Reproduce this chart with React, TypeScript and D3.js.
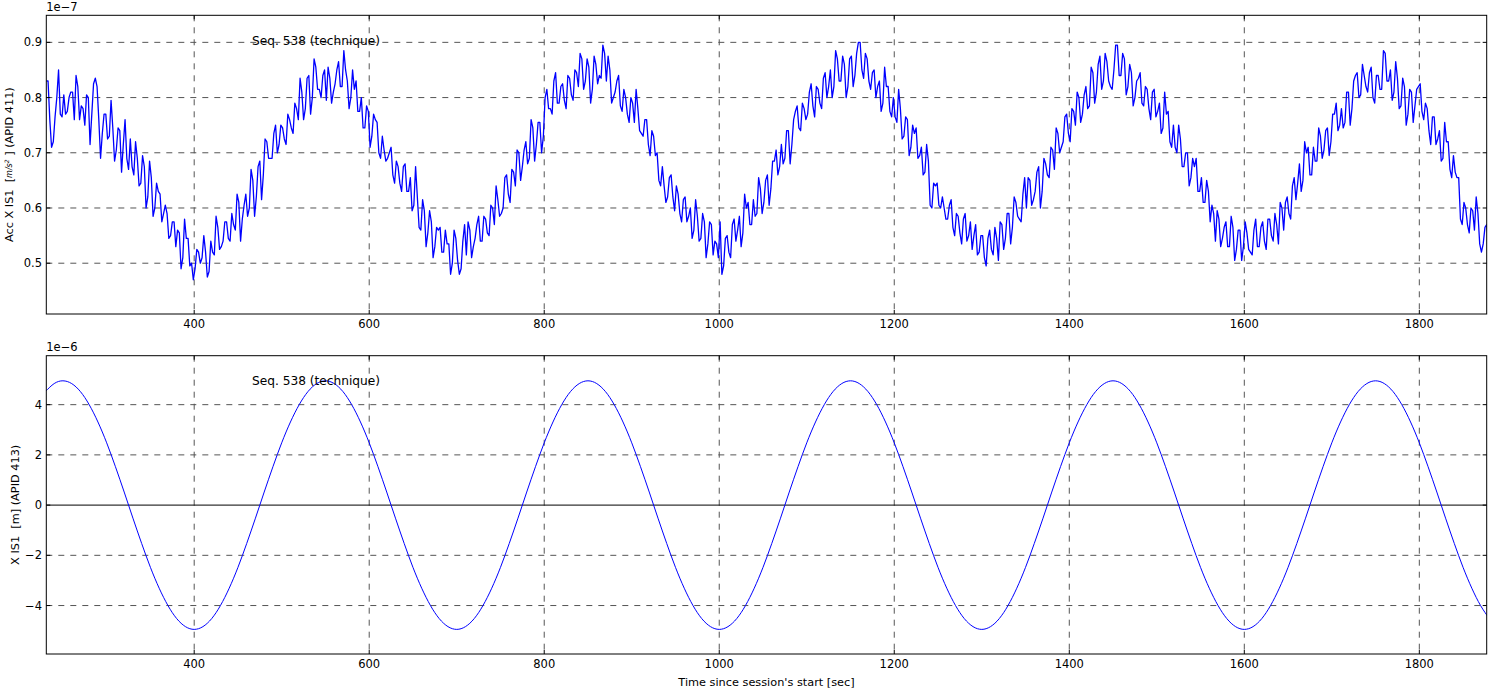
import React from 'react';
import * as d3 from 'd3';

// Acceleration X IS1 (units of 1e-7 m/s^2), samples at t = 231 + 4i s
const accStart = 231;
const accStep = 4;
const accValues = [
  /* 231 */ 0.83, 0.76, 0.72, 0.80, 0.77, 0.805, 0.775, 0.81, 0.76, 0.82,
  /* 271 */ 0.785, 0.75, 0.80, 0.77, 0.835, 0.76, 0.735, 0.77, 0.73, 0.745,
  /* 311 */ 0.705, 0.74, 0.715, 0.69, 0.725, 0.66, 0.69, 0.645, 0.675, 0.62,
  /* 351 */ 0.655, 0.60, 0.63, 0.575, 0.605, 0.545, 0.575, 0.53, 0.555, 0.51,
  /* 391 */ 0.545, 0.495, 0.47, 0.525, 0.50, 0.55, 0.475, 0.54, 0.515, 0.565,
  /* 431 */ 0.53, 0.575, 0.545, 0.59, 0.56, 0.61, 0.58, 0.625, 0.60, 0.65,
  /* 471 */ 0.62, 0.685, 0.66, 0.72, 0.69, 0.735, 0.70, 0.75, 0.725, 0.77,
  /* 511 */ 0.745, 0.79, 0.76, 0.81, 0.78, 0.84, 0.80, 0.855, 0.815, 0.84,
  /* 551 */ 0.795, 0.835, 0.81, 0.85, 0.82, 0.885, 0.83, 0.80, 0.815, 0.775,
  /* 591 */ 0.80, 0.745, 0.775, 0.73, 0.76, 0.70, 0.73, 0.685, 0.70, 0.66,
  /* 631 */ 0.685, 0.645, 0.675, 0.63, 0.655, 0.605, 0.62, 0.56, 0.595, 0.555,
  /* 671 */ 0.575, 0.53, 0.56, 0.52, 0.56, 0.535, 0.50, 0.545, 0.48, 0.54,
  /* 711 */ 0.515, 0.56, 0.53, 0.57, 0.54, 0.585, 0.555, 0.605, 0.57, 0.615,
  /* 751 */ 0.59, 0.655, 0.625, 0.67, 0.64, 0.70, 0.675, 0.72, 0.69, 0.745,
  /* 791 */ 0.715, 0.755, 0.73, 0.815, 0.78, 0.83, 0.79, 0.82, 0.795, 0.84,
  /* 831 */ 0.805, 0.85, 0.82, 0.87, 0.83, 0.855, 0.815, 0.86, 0.84, 0.895,
  /* 871 */ 0.83, 0.85, 0.80, 0.83, 0.785, 0.815, 0.77, 0.80, 0.755, 0.78,
  /* 911 */ 0.735, 0.76, 0.715, 0.74, 0.695, 0.65, 0.675, 0.61, 0.655, 0.62,
  /* 951 */ 0.64, 0.59, 0.615, 0.575, 0.60, 0.56, 0.585, 0.545, 0.575, 0.535,
  /* 991 */ 0.57, 0.54, 0.51, 0.48, 0.545, 0.52, 0.57, 0.54, 0.585, 0.555,
  /* 1031 */ 0.60, 0.57, 0.615, 0.59, 0.635, 0.61, 0.66, 0.635, 0.685, 0.66,
  /* 1071 */ 0.715, 0.69, 0.74, 0.715, 0.775, 0.745, 0.79, 0.76, 0.81, 0.785,
  /* 1111 */ 0.82, 0.79, 0.835, 0.80, 0.85, 0.82, 0.87, 0.83, 0.86, 0.82,
  /* 1151 */ 0.875, 0.84, 0.90, 0.85, 0.88, 0.83, 0.845, 0.80, 0.83, 0.79,
  /* 1191 */ 0.82, 0.775, 0.80, 0.755, 0.78, 0.73, 0.76, 0.71, 0.735, 0.69,
  /* 1231 */ 0.71, 0.665, 0.685, 0.60, 0.64, 0.605, 0.62, 0.58, 0.605, 0.565,
  /* 1271 */ 0.59, 0.555, 0.58, 0.54, 0.575, 0.55, 0.515, 0.55, 0.51, 0.545,
  /* 1311 */ 0.525, 0.565, 0.505, 0.57, 0.545, 0.59, 0.565, 0.61, 0.58, 0.625,
  /* 1351 */ 0.60, 0.65, 0.615, 0.665, 0.60, 0.69, 0.66, 0.71, 0.67, 0.735,
  /* 1391 */ 0.71, 0.765, 0.735, 0.78, 0.75, 0.80, 0.77, 0.82, 0.785, 0.845,
  /* 1431 */ 0.81, 0.875, 0.83, 0.865, 0.82, 0.85, 0.895, 0.84, 0.87, 0.82,
  /* 1471 */ 0.845, 0.80, 0.835, 0.79, 0.82, 0.78, 0.81, 0.765, 0.79, 0.745,
  /* 1511 */ 0.77, 0.72, 0.75, 0.70, 0.725, 0.675, 0.70, 0.655, 0.675, 0.63,
  /* 1551 */ 0.655, 0.61, 0.63, 0.605, 0.54, 0.58, 0.545, 0.575, 0.53, 0.565,
  /* 1591 */ 0.525, 0.56, 0.53, 0.555, 0.52, 0.56, 0.53, 0.565, 0.54, 0.58,
  /* 1631 */ 0.55, 0.59, 0.535, 0.60, 0.61, 0.59, 0.64, 0.615, 0.68, 0.65,
  /* 1671 */ 0.70, 0.66, 0.71, 0.685, 0.73, 0.705, 0.745, 0.72, 0.77, 0.74,
  /* 1711 */ 0.78, 0.755, 0.81, 0.78, 0.84, 0.80, 0.86, 0.82, 0.845, 0.80,
  /* 1751 */ 0.84, 0.815, 0.885, 0.83, 0.85, 0.81, 0.835, 0.785, 0.82, 0.77,
  /* 1791 */ 0.81, 0.785, 0.82, 0.775, 0.79, 0.74, 0.765, 0.715, 0.74, 0.69,
  /* 1831 */ 0.72, 0.67, 0.695, 0.655, 0.58, 0.61, 0.57, 0.60, 0.56, 0.59,
  /* 1871 */ 0.52, 0.565, 0.54,
];

// Acceleration samples in between, at t = 233 + 4i s
const accMidStart = 233;
const accMidValues = [
  /* 233 */ 0.83, 0.71, 0.765, 0.85, 0.765, 0.77, 0.80, 0.81, 0.84, 0.76,
  /* 273 */ 0.78, 0.805, 0.715, 0.825, 0.82, 0.69, 0.77, 0.725, 0.795, 0.685,
  /* 313 */ 0.745, 0.665, 0.76, 0.67, 0.675, 0.72, 0.64, 0.695, 0.60, 0.685,
  /* 353 */ 0.585, 0.645, 0.625, 0.59, 0.59, 0.55, 0.575, 0.56, 0.49, 0.58,
  /* 393 */ 0.545, 0.50, 0.49, 0.52, 0.51, 0.52, 0.485, 0.52, 0.585, 0.525,
  /* 433 */ 0.54, 0.575, 0.54, 0.57, 0.625, 0.54, 0.605, 0.585, 0.67, 0.585,
  /* 473 */ 0.675, 0.615, 0.725, 0.69, 0.69, 0.75, 0.715, 0.745, 0.715, 0.76,
  /* 513 */ 0.735, 0.78, 0.835, 0.76, 0.835, 0.77, 0.87, 0.815, 0.80, 0.85,
  /* 553 */ 0.855, 0.79, 0.825, 0.865, 0.82, 0.85, 0.78, 0.85, 0.83, 0.775,
  /* 593 */ 0.745, 0.785, 0.71, 0.77, 0.755, 0.69, 0.705, 0.69, 0.71, 0.645,
  /* 633 */ 0.675, 0.63, 0.68, 0.63, 0.595, 0.675, 0.565, 0.615, 0.53, 0.595,
  /* 673 */ 0.51, 0.565, 0.565, 0.52, 0.535, 0.48, 0.56, 0.505, 0.49, 0.57,
  /* 713 */ 0.575, 0.51, 0.545, 0.585, 0.54, 0.58, 0.55, 0.60, 0.64, 0.585,
  /* 753 */ 0.60, 0.66, 0.61, 0.665, 0.705, 0.65, 0.705, 0.68, 0.76, 0.685,
  /* 793 */ 0.755, 0.70, 0.80, 0.78, 0.77, 0.845, 0.79, 0.825, 0.78, 0.835,
  /* 833 */ 0.795, 0.845, 0.88, 0.815, 0.87, 0.79, 0.875, 0.825, 0.835, 0.88,
  /* 873 */ 0.875, 0.79, 0.81, 0.84, 0.775, 0.80, 0.755, 0.79, 0.815, 0.74,
  /* 913 */ 0.73, 0.76, 0.695, 0.73, 0.70, 0.64, 0.64, 0.62, 0.66, 0.595,
  /* 953 */ 0.625, 0.575, 0.62, 0.585, 0.545, 0.615, 0.54, 0.59, 0.51, 0.575,
  /* 993 */ 0.515, 0.535, 0.575, 0.495, 0.55, 0.51, 0.58, 0.56, 0.53, 0.625,
  /* 1033 */ 0.61, 0.57, 0.585, 0.655, 0.59, 0.65, 0.605, 0.685, 0.705, 0.675,
  /* 1073 */ 0.68, 0.74, 0.68, 0.76, 0.785, 0.74, 0.78, 0.77, 0.825, 0.765,
  /* 1113 */ 0.815, 0.78, 0.845, 0.82, 0.80, 0.885, 0.83, 0.875, 0.80, 0.87,
  /* 1153 */ 0.82, 0.88, 0.90, 0.835, 0.87, 0.815, 0.85, 0.82, 0.775, 0.855,
  /* 1193 */ 0.82, 0.765, 0.765, 0.815, 0.725, 0.765, 0.695, 0.75, 0.745, 0.695,
  /* 1233 */ 0.66, 0.715, 0.605, 0.645, 0.645, 0.60, 0.60, 0.58, 0.615, 0.55,
  /* 1273 */ 0.585, 0.535, 0.59, 0.55, 0.525, 0.57, 0.52, 0.55, 0.495, 0.56,
  /* 1313 */ 0.515, 0.545, 0.575, 0.525, 0.59, 0.535, 0.62, 0.585, 0.575, 0.655,
  /* 1353 */ 0.655, 0.605, 0.63, 0.675, 0.63, 0.68, 0.655, 0.705, 0.745, 0.70,
  /* 1393 */ 0.72, 0.77, 0.72, 0.775, 0.81, 0.755, 0.805, 0.78, 0.855, 0.79,
  /* 1433 */ 0.86, 0.815, 0.88, 0.83, 0.815, 0.895, 0.84, 0.88, 0.805, 0.86,
  /* 1473 */ 0.785, 0.83, 0.845, 0.785, 0.815, 0.76, 0.815, 0.775, 0.735, 0.81,
  /* 1513 */ 0.775, 0.71, 0.71, 0.75, 0.675, 0.70, 0.64, 0.69, 0.69, 0.63,
  /* 1553 */ 0.61, 0.65, 0.575, 0.59, 0.595, 0.53, 0.565, 0.53, 0.585, 0.505,
  /* 1593 */ 0.56, 0.505, 0.575, 0.525, 0.515, 0.58, 0.53, 0.575, 0.525, 0.58,
  /* 1633 */ 0.54, 0.57, 0.61, 0.56, 0.62, 0.58, 0.655, 0.645, 0.63, 0.72,
  /* 1673 */ 0.71, 0.66, 0.685, 0.745, 0.69, 0.74, 0.695, 0.77, 0.79, 0.75,
  /* 1713 */ 0.745, 0.81, 0.75, 0.83, 0.845, 0.805, 0.84, 0.81, 0.855, 0.79,
  /* 1753 */ 0.84, 0.815, 0.88, 0.83, 0.795, 0.865, 0.78, 0.835, 0.75, 0.815,
  /* 1793 */ 0.755, 0.815, 0.825, 0.76, 0.78, 0.715, 0.765, 0.725, 0.685, 0.755,
  /* 1833 */ 0.72, 0.655, 0.665, 0.655, 0.57, 0.60, 0.555, 0.595, 0.62, 0.535,
  /* 1873 */ 0.535, 0.57,
];

// Position X IS1 (units of 1e-6 m), samples at t = 230 + 10i s
const posStart = 230;
const posStep = 10;
const posValues = [
  /* 230 */ 4.52, 4.84, 4.95, 4.84, 4.52, 4.00, 3.31, 2.48, 1.53, 0.52, -0.52, -1.53, -2.48, -3.31, -4.00,
  /* 380 */ -4.52, -4.84, -4.95, -4.84, -4.52, -4.00, -3.31, -2.48, -1.53, -0.52, 0.52, 1.53, 2.48, 3.31, 4.00,
  /* 530 */ 4.52, 4.84, 4.95, 4.84, 4.52, 4.00, 3.31, 2.48, 1.53, 0.52, -0.52, -1.53, -2.48, -3.31, -4.00,
  /* 680 */ -4.52, -4.84, -4.95, -4.84, -4.52, -4.00, -3.31, -2.48, -1.53, -0.52, 0.52, 1.53, 2.48, 3.31, 4.00,
  /* 830 */ 4.52, 4.84, 4.95, 4.84, 4.52, 4.00, 3.31, 2.48, 1.53, 0.52, -0.52, -1.53, -2.48, -3.31, -4.00,
  /* 980 */ -4.52, -4.84, -4.95, -4.84, -4.52, -4.00, -3.31, -2.48, -1.53, -0.52, 0.52, 1.53, 2.48, 3.31, 4.00,
  /* 1130 */ 4.52, 4.84, 4.95, 4.84, 4.52, 4.00, 3.31, 2.48, 1.53, 0.52, -0.52, -1.53, -2.48, -3.31, -4.00,
  /* 1280 */ -4.52, -4.84, -4.95, -4.84, -4.52, -4.00, -3.31, -2.48, -1.53, -0.52, 0.52, 1.53, 2.48, 3.31, 4.00,
  /* 1430 */ 4.52, 4.84, 4.95, 4.84, 4.52, 4.00, 3.31, 2.48, 1.53, 0.52, -0.52, -1.53, -2.48, -3.31, -4.00,
  /* 1580 */ -4.52, -4.84, -4.95, -4.84, -4.52, -4.00, -3.31, -2.48, -1.53, -0.52, 0.52, 1.53, 2.48, 3.31, 4.00,
  /* 1730 */ 4.52, 4.84, 4.95, 4.84, 4.52, 4.00, 3.31, 2.48, 1.53, 0.52, -0.52, -1.53, -2.48, -3.31, -4.00,
  /* 1880 */ -4.52,
];

const xTicks = [400, 600, 800, 1000, 1200, 1400, 1600, 1800];
const accTicks = [0.5, 0.6, 0.7, 0.8, 0.9];
const posTicks = [-4, -2, 0, 2, 4];
const xDomain = [231, 1877];
const accDomain = [0.408, 0.949];
const posDomain = [-5.93, 5.95];
const annotation = 'Seq. 538 (technique)';
const annotationTime = 466;
const xLabel = "Time since session's start [sec]";

const FONT = '"DejaVu Sans", sans-serif';
const L = 46.3;
const R = 1486.7;

type PanelProps = {
  id: string;
  top: number;
  bottom: number;
  yScale: d3.ScaleLinear<number, number>;
  yTicks: number[];
  fmt: (v: number) => string;
  path: string;
  offsetText: string;
  yLabel: React.ReactNode;
  yLabelX: number;
  zeroLine?: boolean;
  annotY: number;
  lineWidth: number;
};

function Panel(p: PanelProps) {
  const x = d3.scaleLinear().domain(xDomain).range([L, R]);
  const grid = '#555';
  return (
    <g>
      <defs>
        <clipPath id={p.id}>
          <rect x={L} y={p.top} width={R - L} height={p.bottom - p.top} />
        </clipPath>
      </defs>
      {xTicks.map((t) => (
        <line key={'gx' + t} x1={x(t)} x2={x(t)} y1={p.top} y2={p.bottom} stroke={grid} strokeWidth={1} strokeDasharray="6,6" />
      ))}
      {p.yTicks.map((t) =>
        p.zeroLine && t === 0 ? null : (
          <line key={'gy' + t} x1={L} x2={R} y1={p.yScale(t)} y2={p.yScale(t)} stroke={grid} strokeWidth={1} strokeDasharray="6,6" />
        )
      )}
      {p.zeroLine && (
        <line x1={L} x2={R} y1={p.yScale(0)} y2={p.yScale(0)} stroke="#000" strokeWidth={1} />
      )}
      <path d={p.path} fill="none" stroke="#0000ff" strokeWidth={p.lineWidth} clipPath={`url(#${p.id})`} strokeLinejoin="round" />
      {xTicks.map((t) => (
        <g key={'tx' + t}>
          <line x1={x(t)} x2={x(t)} y1={p.bottom} y2={p.bottom - 4} stroke="#000" />
          <line x1={x(t)} x2={x(t)} y1={p.top} y2={p.top + 4} stroke="#000" />
          <text x={x(t)} y={p.bottom + 13.5} textAnchor="middle" fontSize={11.5} fontFamily={FONT} fill="#000">
            {t}
          </text>
        </g>
      ))}
      {p.yTicks.map((t) => (
        <g key={'ty' + t}>
          <line x1={L} x2={L + 4} y1={p.yScale(t)} y2={p.yScale(t)} stroke="#000" />
          <line x1={R} x2={R - 4} y1={p.yScale(t)} y2={p.yScale(t)} stroke="#000" />
          <text x={42} y={p.yScale(t) + 4} textAnchor="end" fontSize={11.5} fontFamily={FONT} fill="#000">
            {p.fmt(t)}
          </text>
        </g>
      ))}
      <rect x={L} y={p.top} width={R - L} height={p.bottom - p.top} fill="none" stroke="#000" strokeWidth={1} />
      <text x={L} y={p.top - 4.5} fontSize={11.5} fontFamily={FONT} fill="#000">
        {p.offsetText}
      </text>
      <text x={x(annotationTime)} y={p.annotY} fontSize={12.2} fontFamily={FONT} fill="#000">
        {annotation}
      </text>
      <text
        transform={`translate(${p.yLabelX},${(p.top + p.bottom) / 2}) rotate(-90)`}
        textAnchor="middle"
        fontSize={11.3}
        fontFamily={FONT}
        fill="#000"
        style={{ whiteSpace: 'pre' }}
      >
        {p.yLabel}
      </text>
    </g>
  );
}

export default function App() {
  const x = d3.scaleLinear().domain(xDomain).range([L, R]);
  const topTop = 15.3;
  const topBottom = 314;
  const botTop = 355.7;
  const botBottom = 654;
  const yAcc = d3.scaleLinear().domain(accDomain).range([topBottom, topTop]);
  const yPos = d3.scaleLinear().domain(posDomain).range([botBottom, botTop]);

  // merge the two interleaved acceleration sample sets in time order
  const accSeries: [number, number][] = [];
  accValues.forEach((v, i) => {
    accSeries.push([accStart + i * accStep, v]);
    if (i < accMidValues.length) accSeries.push([accMidStart + i * accStep, accMidValues[i]]);
  });

  const accPath =
    d3
      .line<[number, number]>()
      .x((d) => x(d[0]))
      .y((d) => yAcc(d[1]))(accSeries) || '';
  const posPath =
    d3
      .line<number>()
      .x((_, i) => x(posStart + i * posStep))
      .y((v) => yPos(v))
      .curve(d3.curveNatural)(posValues) || '';

  const fmtAcc = d3.format('.1f');
  const fmtPos = (v: number) => (v < 0 ? '\u2212' + Math.abs(v) : String(v));

  const accLabel = (
    <>
      <tspan>{'Acc X IS1  ['}</tspan>
      <tspan fontStyle="italic" fontSize={8} dy={-1}>m/s</tspan>
      <tspan fontStyle="italic" fontSize={6} dy={-3}>2</tspan>
      <tspan dy={4}>{' ] (APID 411)'}</tspan>
    </>
  );
  const posLabel = <tspan>{'X IS1  [m] (APID 413)'}</tspan>;

  return (
    <div style={{ position: 'absolute', left: 0, top: 0, width: 1490, height: 691, background: '#fff' }}>
      <svg width={1490} height={691} style={{ display: 'block' }}>
        <rect x={0} y={0} width={1490} height={691} fill="#fff" />
        <Panel
          id="clipTop"
          top={topTop}
          bottom={topBottom}
          yScale={yAcc}
          yTicks={accTicks}
          fmt={fmtAcc}
          path={accPath}
          offsetText={'1e\u22127'}
          yLabel={accLabel}
          yLabelX={13}
          annotY={44.5}
          lineWidth={1.3}
        />
        <Panel
          id="clipBot"
          top={botTop}
          bottom={botBottom}
          yScale={yPos}
          yTicks={posTicks}
          fmt={fmtPos}
          path={posPath}
          offsetText={'1e\u22126'}
          yLabel={posLabel}
          yLabelX={19}
          zeroLine
          annotY={385}
          lineWidth={1}
        />
        <text x={(L + R) / 2} y={686} textAnchor="middle" fontSize={11.3} fontFamily={FONT} fill="#000">
          {xLabel}
        </text>
      </svg>
    </div>
  );
}
